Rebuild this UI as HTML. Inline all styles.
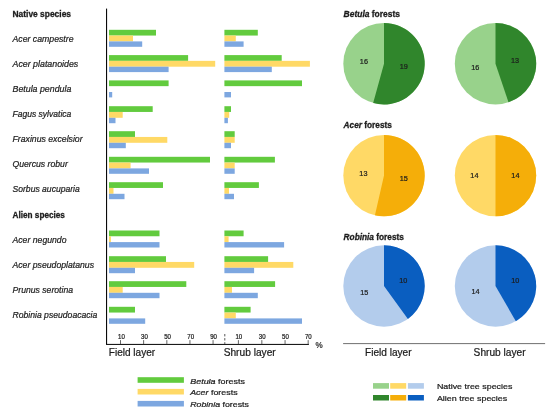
<!DOCTYPE html>
<html lang="en"><head><meta charset="utf-8"><title>Species frequency in Betula, Acer and Robinia forests</title>
<style>html,body{margin:0;padding:0;background:#fff}body{width:550px;height:412px;overflow:hidden}svg{display:block}text{font-family:"Liberation Sans",sans-serif;fill:#1c1c1c}text{stroke:#1c1c1c;stroke-width:.22px}.i{font-style:italic}.b{font-weight:bold;stroke-width:.3px}.s{stroke-width:.1px}</style></head><body>
<svg width="550" height="412" viewBox="0 0 550 412">
<rect width="550" height="412" fill="#fff"/>
<rect x="109.0" y="29.80" width="47.0" height="5.75" fill="#62CB3E"/>
<rect x="109.0" y="35.55" width="24.0" height="5.85" fill="#FFD966"/>
<rect x="109.0" y="41.40" width="33.2" height="5.40" fill="#7DA7E0"/>
<rect x="109.0" y="55.10" width="79.1" height="5.75" fill="#62CB3E"/>
<rect x="109.0" y="60.85" width="106.2" height="5.85" fill="#FFD966"/>
<rect x="109.0" y="66.70" width="59.6" height="5.40" fill="#7DA7E0"/>
<rect x="109.0" y="80.40" width="59.6" height="5.75" fill="#62CB3E"/>
<rect x="109.0" y="92.00" width="3.2" height="5.40" fill="#7DA7E0"/>
<rect x="109.0" y="106.20" width="43.7" height="5.75" fill="#62CB3E"/>
<rect x="109.0" y="111.95" width="13.7" height="5.85" fill="#FFD966"/>
<rect x="109.0" y="117.80" width="6.5" height="5.40" fill="#7DA7E0"/>
<rect x="109.0" y="131.20" width="26.0" height="5.75" fill="#62CB3E"/>
<rect x="109.0" y="136.95" width="58.3" height="5.85" fill="#FFD966"/>
<rect x="109.0" y="142.80" width="16.8" height="5.40" fill="#7DA7E0"/>
<rect x="109.0" y="156.80" width="101.0" height="5.75" fill="#62CB3E"/>
<rect x="109.0" y="162.55" width="21.6" height="5.85" fill="#FFD966"/>
<rect x="109.0" y="168.40" width="40.0" height="5.40" fill="#7DA7E0"/>
<rect x="109.0" y="182.20" width="54.0" height="5.75" fill="#62CB3E"/>
<rect x="109.0" y="187.95" width="4.5" height="5.85" fill="#FFD966"/>
<rect x="109.0" y="193.80" width="15.5" height="5.40" fill="#7DA7E0"/>
<rect x="109.0" y="230.50" width="50.5" height="5.75" fill="#62CB3E"/>
<rect x="109.0" y="236.25" width="1.9" height="5.85" fill="#FFD966"/>
<rect x="109.0" y="242.10" width="50.5" height="5.40" fill="#7DA7E0"/>
<rect x="109.0" y="256.20" width="57.0" height="5.75" fill="#62CB3E"/>
<rect x="109.0" y="261.95" width="85.2" height="5.85" fill="#FFD966"/>
<rect x="109.0" y="267.80" width="26.0" height="5.40" fill="#7DA7E0"/>
<rect x="109.0" y="281.20" width="77.3" height="5.75" fill="#62CB3E"/>
<rect x="109.0" y="286.95" width="13.7" height="5.85" fill="#FFD966"/>
<rect x="109.0" y="292.80" width="50.5" height="5.40" fill="#7DA7E0"/>
<rect x="109.0" y="306.80" width="26.0" height="5.75" fill="#62CB3E"/>
<rect x="109.0" y="318.40" width="36.2" height="5.40" fill="#7DA7E0"/>
<rect x="224.4" y="29.80" width="33.4" height="5.75" fill="#62CB3E"/>
<rect x="224.4" y="35.55" width="11.4" height="5.85" fill="#FFD966"/>
<rect x="224.4" y="41.40" width="19.2" height="5.40" fill="#7DA7E0"/>
<rect x="224.4" y="55.10" width="57.3" height="5.75" fill="#62CB3E"/>
<rect x="224.4" y="60.85" width="85.5" height="5.85" fill="#FFD966"/>
<rect x="224.4" y="66.70" width="47.4" height="5.40" fill="#7DA7E0"/>
<rect x="224.4" y="80.40" width="77.6" height="5.75" fill="#62CB3E"/>
<rect x="224.4" y="92.00" width="6.6" height="5.40" fill="#7DA7E0"/>
<rect x="224.4" y="106.20" width="6.6" height="5.75" fill="#62CB3E"/>
<rect x="224.4" y="111.95" width="4.8" height="5.85" fill="#FFD966"/>
<rect x="224.4" y="117.80" width="3.5" height="5.40" fill="#7DA7E0"/>
<rect x="224.4" y="131.20" width="10.3" height="5.75" fill="#62CB3E"/>
<rect x="224.4" y="136.95" width="10.3" height="5.85" fill="#FFD966"/>
<rect x="224.4" y="142.80" width="6.6" height="5.40" fill="#7DA7E0"/>
<rect x="224.4" y="156.80" width="50.5" height="5.75" fill="#62CB3E"/>
<rect x="224.4" y="162.55" width="10.3" height="5.85" fill="#FFD966"/>
<rect x="224.4" y="168.40" width="10.3" height="5.40" fill="#7DA7E0"/>
<rect x="224.4" y="182.20" width="34.5" height="5.75" fill="#62CB3E"/>
<rect x="224.4" y="187.95" width="4.6" height="5.85" fill="#FFD966"/>
<rect x="224.4" y="193.80" width="9.6" height="5.40" fill="#7DA7E0"/>
<rect x="224.4" y="230.50" width="19.2" height="5.75" fill="#62CB3E"/>
<rect x="224.4" y="236.25" width="4.2" height="5.85" fill="#FFD966"/>
<rect x="224.4" y="242.10" width="59.7" height="5.40" fill="#7DA7E0"/>
<rect x="224.4" y="256.20" width="43.7" height="5.75" fill="#62CB3E"/>
<rect x="224.4" y="261.95" width="68.9" height="5.85" fill="#FFD966"/>
<rect x="224.4" y="267.80" width="29.7" height="5.40" fill="#7DA7E0"/>
<rect x="224.4" y="281.20" width="50.7" height="5.75" fill="#62CB3E"/>
<rect x="224.4" y="286.95" width="7.6" height="5.85" fill="#FFD966"/>
<rect x="224.4" y="292.80" width="33.4" height="5.40" fill="#7DA7E0"/>
<rect x="224.4" y="306.80" width="26.2" height="5.75" fill="#62CB3E"/>
<rect x="224.4" y="312.55" width="11.4" height="5.85" fill="#FFD966"/>
<rect x="224.4" y="318.40" width="77.6" height="5.40" fill="#7DA7E0"/>
<rect x="106" y="8.6" width="1.1" height="336.4" fill="#0a0a0a"/>
<rect x="106" y="343.9" width="202.9" height="1.1" fill="#1a1a1a"/>
<rect x="120.1" y="340.1" width="0.9" height="4" fill="#555"/>
<rect x="143.2" y="340.1" width="0.9" height="4" fill="#555"/>
<rect x="166.4" y="340.1" width="0.9" height="4" fill="#555"/>
<rect x="189.5" y="340.1" width="0.9" height="4" fill="#555"/>
<rect x="212.6" y="340.1" width="0.9" height="4" fill="#555"/>
<rect x="237.9" y="340.1" width="0.9" height="4" fill="#555"/>
<rect x="261.4" y="340.1" width="0.9" height="4" fill="#555"/>
<rect x="284.6" y="340.1" width="0.9" height="4" fill="#555"/>
<rect x="307.7" y="340.1" width="0.9" height="4" fill="#555"/>
<line x1="224.8" y1="334" x2="224.8" y2="344" stroke="#444" stroke-width="0.9" stroke-dasharray="2.4 1.7"/>
<text x="121.4" y="338.6" font-size="6.4" text-anchor="middle" textLength="6.8" lengthAdjust="spacingAndGlyphs">10</text>
<text x="144.5" y="338.6" font-size="6.4" text-anchor="middle" textLength="6.8" lengthAdjust="spacingAndGlyphs">30</text>
<text x="167.6" y="338.6" font-size="6.4" text-anchor="middle" textLength="6.8" lengthAdjust="spacingAndGlyphs">50</text>
<text x="190.7" y="338.6" font-size="6.4" text-anchor="middle" textLength="6.8" lengthAdjust="spacingAndGlyphs">70</text>
<text x="213.6" y="338.6" font-size="6.4" text-anchor="middle" textLength="6.8" lengthAdjust="spacingAndGlyphs">90</text>
<text x="238.8" y="338.6" font-size="6.4" text-anchor="middle" textLength="6.8" lengthAdjust="spacingAndGlyphs">10</text>
<text x="262.2" y="338.6" font-size="6.4" text-anchor="middle" textLength="6.8" lengthAdjust="spacingAndGlyphs">30</text>
<text x="285.4" y="338.6" font-size="6.4" text-anchor="middle" textLength="6.8" lengthAdjust="spacingAndGlyphs">50</text>
<text x="308.3" y="338.6" font-size="6.4" text-anchor="middle" textLength="6.8" lengthAdjust="spacingAndGlyphs">70</text>
<text x="315.5" y="348" font-size="8.6" textLength="7.2" lengthAdjust="spacingAndGlyphs">%</text>
<text x="12.5" y="16.9" font-size="8.9" textLength="58.5" lengthAdjust="spacingAndGlyphs" class="b">Native species</text>
<text x="12.5" y="217.6" font-size="8.9" textLength="52.4" lengthAdjust="spacingAndGlyphs" class="b">Alien species</text>
<text x="12.5" y="42.0" font-size="9.2" textLength="61.0" lengthAdjust="spacingAndGlyphs" class="i">Acer campestre</text>
<text x="12.5" y="66.9" font-size="9.2" textLength="65.8" lengthAdjust="spacingAndGlyphs" class="i">Acer platanoides</text>
<text x="12.5" y="92.0" font-size="9.2" textLength="58.8" lengthAdjust="spacingAndGlyphs" class="i">Betula pendula</text>
<text x="12.5" y="117.0" font-size="9.2" textLength="58.8" lengthAdjust="spacingAndGlyphs" class="i">Fagus sylvatica</text>
<text x="12.5" y="142.1" font-size="9.2" textLength="70.1" lengthAdjust="spacingAndGlyphs" class="i">Fraxinus excelsior</text>
<text x="12.5" y="167.0" font-size="9.2" textLength="55.3" lengthAdjust="spacingAndGlyphs" class="i">Quercus robur</text>
<text x="12.5" y="192.0" font-size="9.2" textLength="67.3" lengthAdjust="spacingAndGlyphs" class="i">Sorbus aucuparia</text>
<text x="12.5" y="242.5" font-size="9.2" textLength="54.0" lengthAdjust="spacingAndGlyphs" class="i">Acer negundo</text>
<text x="12.5" y="268.0" font-size="9.2" textLength="81.5" lengthAdjust="spacingAndGlyphs" class="i">Acer pseudoplatanus</text>
<text x="12.5" y="292.5" font-size="9.2" textLength="60.5" lengthAdjust="spacingAndGlyphs" class="i">Prunus serotina</text>
<text x="12.5" y="318.0" font-size="9.2" textLength="84.8" lengthAdjust="spacingAndGlyphs" class="i">Robinia pseudoacacia</text>
<text x="108.8" y="355.8" font-size="10" textLength="46.3" lengthAdjust="spacingAndGlyphs">Field layer</text>
<text x="223.7" y="356.2" font-size="10" textLength="52.0" lengthAdjust="spacingAndGlyphs">Shrub layer</text>
<rect x="137.6" y="377.2" width="46.3" height="5.6" fill="#62CB3E"/>
<rect x="137.6" y="388.9" width="46.3" height="5.6" fill="#FFD966"/>
<rect x="137.6" y="400.9" width="46.3" height="5.6" fill="#7DA7E0"/>
<text x="190.2" y="383.6" font-size="8.1" textLength="54.8" lengthAdjust="spacingAndGlyphs"><tspan class="i">Betula</tspan> forests</text>
<text x="190.2" y="395.1" font-size="8.1" textLength="47.4" lengthAdjust="spacingAndGlyphs"><tspan class="i">Acer</tspan> forests</text>
<text x="190.2" y="406.6" font-size="8.1" textLength="58.7" lengthAdjust="spacingAndGlyphs"><tspan class="i">Robinia</tspan> forests</text>
<circle cx="384.0" cy="63.7" r="40.7" fill="#98D28B"/>
<path d="M384.00 63.70 L384.00 23.00 A40.70 40.70 0 1 1 373.17 102.93 Z" fill="#30862C"/>
<text x="363.9" y="63.5" font-size="7.7" text-anchor="middle" textLength="8.1" lengthAdjust="spacingAndGlyphs" fill="#1a1a1a">16</text>
<text x="403.7" y="69.2" font-size="7.7" text-anchor="middle" textLength="8.1" lengthAdjust="spacingAndGlyphs" fill="#1a1a1a">19</text>
<circle cx="495.5" cy="63.7" r="40.7" fill="#98D28B"/>
<path d="M495.50 63.70 L495.50 23.00 A40.70 40.70 0 0 1 508.50 102.27 Z" fill="#30862C"/>
<text x="475.2" y="69.5" font-size="7.7" text-anchor="middle" textLength="8.1" lengthAdjust="spacingAndGlyphs" fill="#1a1a1a">16</text>
<text x="515.0" y="62.7" font-size="7.7" text-anchor="middle" textLength="8.1" lengthAdjust="spacingAndGlyphs" fill="#1a1a1a">13</text>
<circle cx="384.0" cy="175.6" r="40.7" fill="#FFD966"/>
<path d="M384.00 175.60 L384.00 134.90 A40.70 40.70 0 1 1 374.94 215.28 Z" fill="#F5AE09"/>
<text x="363.4" y="175.9" font-size="7.7" text-anchor="middle" textLength="8.1" lengthAdjust="spacingAndGlyphs" fill="#1a1a1a">13</text>
<text x="403.7" y="180.7" font-size="7.7" text-anchor="middle" textLength="8.1" lengthAdjust="spacingAndGlyphs" fill="#1a1a1a">15</text>
<circle cx="495.5" cy="175.6" r="40.7" fill="#FFD966"/>
<path d="M495.50 175.60 L495.50 134.90 A40.70 40.70 0 0 1 495.50 216.30 Z" fill="#F5AE09"/>
<text x="474.4" y="178.3" font-size="7.7" text-anchor="middle" textLength="8.1" lengthAdjust="spacingAndGlyphs" fill="#1a1a1a">14</text>
<text x="515.4" y="178.3" font-size="7.7" text-anchor="middle" textLength="8.1" lengthAdjust="spacingAndGlyphs" fill="#1a1a1a">14</text>
<circle cx="384.0" cy="286.0" r="40.7" fill="#B3CCEC"/>
<path d="M384.00 286.00 L384.00 245.30 A40.70 40.70 0 0 1 407.92 318.93 Z" fill="#0A5EC0"/>
<text x="364.3" y="295.1" font-size="7.7" text-anchor="middle" textLength="8.1" lengthAdjust="spacingAndGlyphs" fill="#1a1a1a">15</text>
<text x="403.2" y="283.1" font-size="7.7" text-anchor="middle" textLength="8.1" lengthAdjust="spacingAndGlyphs" fill="#1a1a1a">10</text>
<circle cx="495.5" cy="286.0" r="40.7" fill="#B3CCEC"/>
<path d="M495.50 286.00 L495.50 245.30 A40.70 40.70 0 0 1 515.85 321.25 Z" fill="#0A5EC0"/>
<text x="475.6" y="294.1" font-size="7.7" text-anchor="middle" textLength="8.1" lengthAdjust="spacingAndGlyphs" fill="#1a1a1a">14</text>
<text x="515.2" y="283.1" font-size="7.7" text-anchor="middle" textLength="8.1" lengthAdjust="spacingAndGlyphs" fill="#1a1a1a">10</text>
<text x="343.6" y="16.5" font-size="8.9" class="b" textLength="56.4" lengthAdjust="spacingAndGlyphs"><tspan class="i">Betula</tspan> forests</text>
<text x="343.6" y="128.4" font-size="8.9" class="b" textLength="48.3" lengthAdjust="spacingAndGlyphs"><tspan class="i">Acer</tspan> forests</text>
<text x="343.6" y="239.6" font-size="8.9" class="b" textLength="60.3" lengthAdjust="spacingAndGlyphs"><tspan class="i">Robinia</tspan> forests</text>
<rect x="343.1" y="343.1" width="202" height="1" fill="#707070"/>
<text x="365.0" y="356.0" font-size="10" textLength="46.5" lengthAdjust="spacingAndGlyphs">Field layer</text>
<text x="473.6" y="355.8" font-size="10" textLength="52.0" lengthAdjust="spacingAndGlyphs">Shrub layer</text>
<rect x="373.0" y="383.1" width="16" height="5.6" fill="#98D28B"/>
<rect x="373.0" y="395" width="16" height="5.5" fill="#30862C"/>
<rect x="390.2" y="383.1" width="16" height="5.6" fill="#FFD966"/>
<rect x="390.2" y="395" width="16" height="5.5" fill="#F5AE09"/>
<rect x="407.9" y="383.1" width="16" height="5.6" fill="#B3CCEC"/>
<rect x="407.9" y="395" width="16" height="5.5" fill="#0A5EC0"/>
<text x="436.9" y="388.9" font-size="8.1" textLength="75.5" lengthAdjust="spacingAndGlyphs">Native tree species</text>
<text x="436.9" y="400.5" font-size="8.1" textLength="70.3" lengthAdjust="spacingAndGlyphs">Alien tree species</text>
</svg></body></html>
